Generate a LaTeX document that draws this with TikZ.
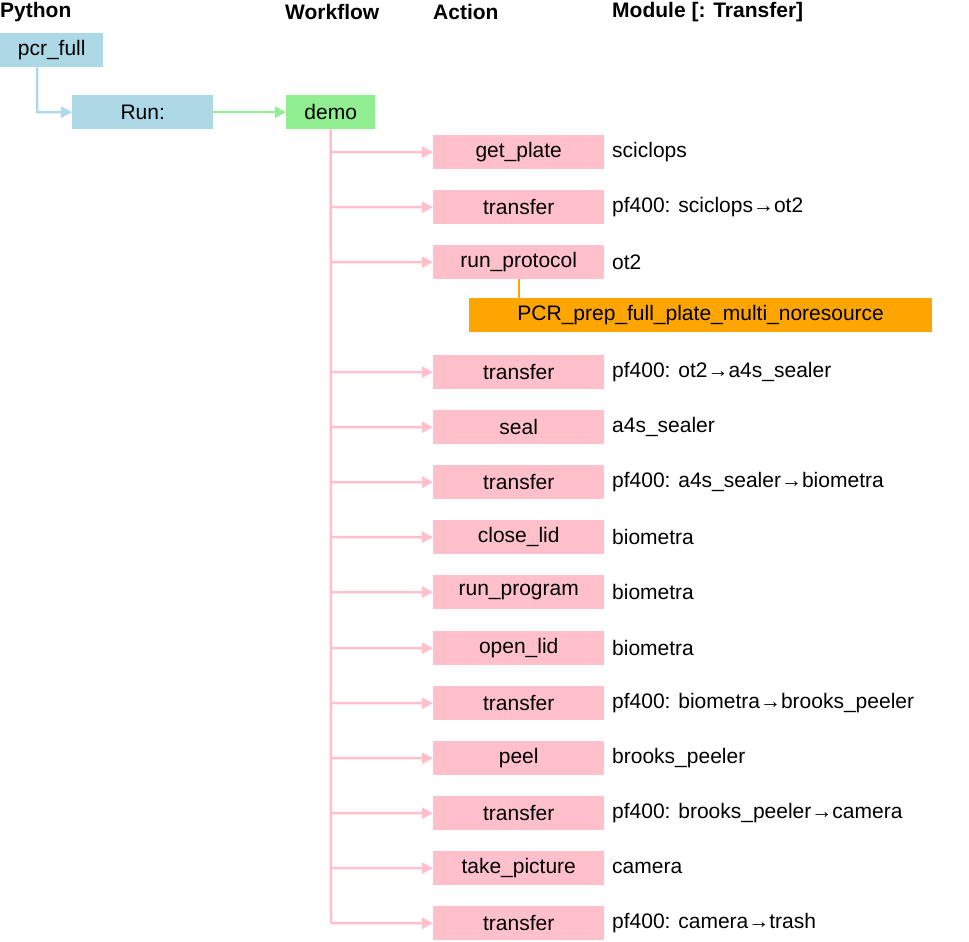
\documentclass[tikz,border=0pt]{standalone}
\usepackage{fontspec}
\setmainfont{Liberation Sans}
\usetikzlibrary{arrows.meta}
\definecolor{lb}{HTML}{ADD8E6}
\definecolor{lg}{HTML}{90EE90}
\definecolor{pk}{HTML}{FFC0CB}
\definecolor{og}{HTML}{FFA500}
\begin{document}
\begin{tikzpicture}[x=1pt,y=-1pt,
  every node/.style={font=\fontsize{21}{24}\selectfont},
  box/.style={draw=none,minimum height=34pt,inner sep=0pt,anchor=north west},
  act/.style={box,fill=pk,minimum width=171pt},
  mod/.style={anchor=west,inner sep=0pt},
  hd/.style={anchor=west,inner sep=0pt,font=\fontsize{21}{24}\selectfont\bfseries},
  arr/.style={line width=2.5pt,-{Triangle[length=11pt,width=11pt]}}]
\useasboundingbox (0,0) rectangle (969,942);
\node[hd] (h1) at (0,12) {Python};
\node[hd] (h2) at (285,12) {Workflow};
\node[hd] (h3) at (433,12) {Action};
\node[hd] (h4) at (612,12) {Module [: Transfer]};
\node[box,fill=lb,minimum width=103pt] (pcr) at (0,33) {pcr\_full};
\node[box,fill=lb,minimum width=141pt] (run) at (72,95) {Run:};
\node[box,fill=lg,minimum width=89pt] (demo) at (286,95) {demo};
\coordinate (c1) at (37,112);
\draw[arr,draw=lb,color=lb] ([xshift=-14.5pt]pcr.south) -- (c1) -- (run.west);
\draw[arr,draw=lg,color=lg] (run.east) -- (demo.west);
\foreach \i/\y/\t/\m in {
 a1/135/get\_plate/sciclops,
 a2/190/transfer/pf400: sciclops→ot2,
 a3/245/run\_protocol/ot2,
 a4/355/transfer/pf400: ot2→a4s\_sealer,
 a5/410/seal/a4s\_sealer,
 a6/465/transfer/pf400: a4s\_sealer→biometra,
 a7/520/close\_lid/biometra,
 a8/575/run\_program/biometra,
 a9/631/open\_lid/biometra,
 a10/686/transfer/pf400: biometra→brooks\_peeler,
 a11/741/peel/brooks\_peeler,
 a12/796/transfer/pf400: brooks\_peeler→camera,
 a13/851/take\_picture/camera,
 a14/906/transfer/pf400: camera→trash}{
 \node[act] (\i) at (433,\y) {\t};
 \node[mod] (m\i) at (612,\y+17) {\m};
 \coordinate (v\i) at (331,\y+17);
 \draw[arr,draw=pk,color=pk] (v\i) -- (\i.west);
}
\draw[line width=2.5pt,pk] (demo.south) -- (va14);
\node[box,fill=og,minimum width=463pt] (pcrp) at (469,298) {PCR\_prep\_full\_plate\_multi\_noresource};
\draw[line width=2.5pt,og] (a3.south -| 519,0) -- (pcrp.north -| 519,0);
\end{tikzpicture}
\end{document}
